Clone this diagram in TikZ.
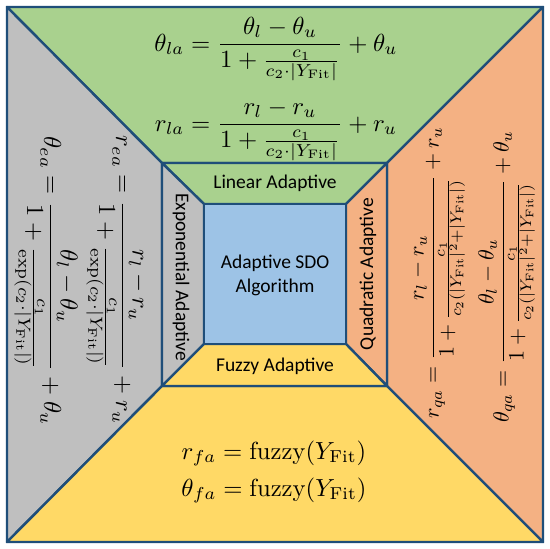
\documentclass[tikz,border=0pt]{standalone}
\usepackage{fontspec}
\usepackage{amsmath}
\newfontfamily\labfont{Carlito}
\definecolor{edgeblue}{HTML}{1F4E79}
\definecolor{cgreen}{HTML}{A9D18E}
\definecolor{cgray}{HTML}{BFBFBF}
\definecolor{corange}{HTML}{F4B183}
\definecolor{cyellow}{HTML}{FFD966}
\definecolor{cblue}{HTML}{9DC3E6}
\tikzset{
  region/.style={draw=edgeblue, line width=2.4pt, line join=round},
  formula/.style={inner sep=0pt, anchor=base, scale=2.47},
  sideformula/.style={inner sep=0pt, anchor=base, scale=2.45},
  qformula/.style={inner sep=0pt, anchor=base, scale=2.2},
  label/.style={inner sep=0pt, font=\labfont\fontsize{19.5}{24}\selectfont, align=center},
}
\begin{document}
\begin{tikzpicture}[x=1pt,y=-1pt]
\useasboundingbox (0,0) rectangle (550,549);
\fill[white] (0,0) rectangle (550,549);
% corners
\coordinate (O1) at (7,7);
\coordinate (O2) at (543,7);
\coordinate (O3) at (543,542);
\coordinate (O4) at (7,542);
\coordinate (M1) at (162,163);
\coordinate (M2) at (387,163);
\coordinate (M3) at (387,386);
\coordinate (M4) at (162,386);
\coordinate (I1) at (204,204);
\coordinate (I2) at (346,204);
\coordinate (I3) at (346,344);
\coordinate (I4) at (204,344);
% outer regions
\filldraw[region, fill=cgreen] (O1) -- (O2) -- (M2) -- (M1) -- cycle;
\filldraw[region, fill=cgray] (O1) -- (M1) -- (M4) -- (O4) -- cycle;
\filldraw[region, fill=corange] (O2) -- (O3) -- (M3) -- (M2) -- cycle;
\filldraw[region, fill=cyellow] (O4) -- (M4) -- (M3) -- (O3) -- cycle;
% inner ring
\filldraw[region, fill=cgreen] (M1) -- (M2) -- (I2) -- (I1) -- cycle;
\filldraw[region, fill=cgray] (M1) -- (I1) -- (I4) -- (M4) -- cycle;
\filldraw[region, fill=corange] (M2) -- (M3) -- (I3) -- (I2) -- cycle;
\filldraw[region, fill=cyellow] (M4) -- (I4) -- (I3) -- (M3) -- cycle;
% center
\filldraw[region, fill=cblue] (I1) -- (I2) -- (I3) -- (I4) -- cycle;
% labels
\node[label] (center) at (275,275) {Adaptive SDO\\Algorithm};
\node[label] (linear) at (275,183) {Linear Adaptive};
\node[label] (fuzzy) at (275,366) {Fuzzy Adaptive};
\node[label, rotate=-90] (expo) at (181,277) {Exponential Adaptive};
\node[label, rotate=90] (quad) at (368,274) {Quadratic Adaptive};
% top formulas
\node[formula] (tla) at (276,51) {$\displaystyle \theta_{la}=\frac{\theta_l-\theta_u}{1+\frac{c_1}{c_2\cdot|Y_{\mathrm{Fit}}|}}+\theta_u$};
\node[formula] (rla) at (276,131) {$\displaystyle r_{la}=\frac{r_l-r_u}{1+\frac{c_1}{c_2\cdot|Y_{\mathrm{Fit}}|}}+r_u$};
% left formulas
\node[sideformula, rotate=-90] (rea) at (116,280) {$\displaystyle r_{ea}=\frac{r_l-r_u}{1+\frac{c_1}{\exp(c_2\cdot|Y_{\mathrm{Fit}}|)}}+r_u$};
\node[sideformula, rotate=-90] (tea) at (44,281) {$\displaystyle \theta_{ea}=\frac{\theta_l-\theta_u}{1+\frac{c_1}{\exp(c_2\cdot|Y_{\mathrm{Fit}}|)}}+\theta_u$};
% right formulas
\node[qformula, rotate=90] (rqa) at (438.5,273) {$\displaystyle r_{qa}=\frac{r_l-r_u}{1+\frac{c_1}{c_2(|Y_{\mathrm{Fit}}|^2+|Y_{\mathrm{Fit}}|)}}+r_u$};
\node[qformula, rotate=90] (tqa) at (508.5,277) {$\displaystyle \theta_{qa}=\frac{\theta_l-\theta_u}{1+\frac{c_1}{c_2(|Y_{\mathrm{Fit}}|^2+|Y_{\mathrm{Fit}}|)}}+\theta_u$};
% bottom formulas
\node[formula] (rfa) at (274,459) {$r_{fa}=\mathrm{fuzzy}(Y_{\mathrm{Fit}})$};
\node[formula] (tfa) at (274,496) {$\theta_{fa}=\mathrm{fuzzy}(Y_{\mathrm{Fit}})$};
\end{tikzpicture}
\end{document}
